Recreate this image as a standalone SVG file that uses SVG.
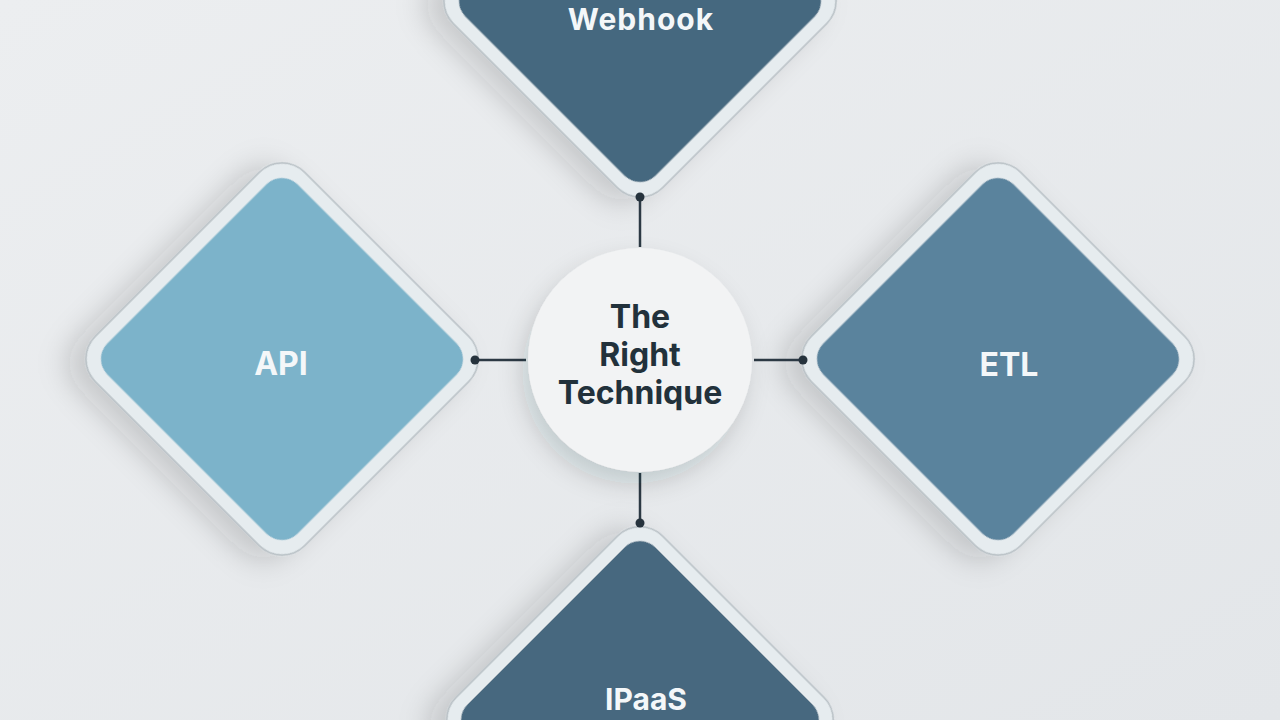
<svg xmlns="http://www.w3.org/2000/svg" width="1280" height="720" viewBox="0 0 1280 720">
  <defs>
    <linearGradient id="bg" x1="0" y1="0" x2="1" y2="1">
      <stop offset="0" stop-color="#eceef0"/>
      <stop offset="1" stop-color="#e3e6e9"/>
    </linearGradient>
    <filter id="shadow" x="-30%" y="-30%" width="160%" height="160%">
      <feDropShadow dx="-10" dy="16" stdDeviation="14" flood-color="#1e2a33" flood-opacity="0.18"/>
    </filter>
    <filter id="cshadow" x="-30%" y="-30%" width="160%" height="160%">
      <feDropShadow dx="-6" dy="12" stdDeviation="12" flood-color="#1e2a33" flood-opacity="0.16"/>
    </filter>
  </defs>
  <style>
    .frame { fill: #e6ecef; stroke: #b8c0c5; stroke-width: 1.5; }
    .label { font-family: "Inter", "Liberation Sans", sans-serif; font-weight: 700; fill: #f4f7f9; text-anchor: middle; }
    .center { font-family: "Inter", "Liberation Sans", sans-serif; font-weight: 700; fill: #22313b; text-anchor: middle; font-size: 32px; }
    .wire { stroke: #2c3944; stroke-width: 2.5; fill: none; }
    .dot { fill: #26333d; }
  </style>
  <rect width="1280" height="720" fill="url(#bg)"/>

  <g id="node-webhook">
    <g transform="translate(640,1) rotate(45)" filter="url(#shadow)">
      <rect class="frame" x="-148" y="-148" width="296" height="296" rx="32"/>
      <rect x="-134.5" y="-134.5" width="269" height="269" rx="22" fill="#44687f"/>
    </g>
    <text class="label" x="641" y="30" font-size="30" letter-spacing="1">Webhook</text>
  </g>

  <g id="node-api">
    <g transform="translate(282,359) rotate(45)" filter="url(#shadow)">
      <rect class="frame" x="-148" y="-148" width="296" height="296" rx="32"/>
      <rect x="-134.5" y="-134.5" width="269" height="269" rx="22" fill="#7cb3ca"/>
    </g>
    <text class="label" x="281" y="375" font-size="32">API</text>
  </g>

  <g id="node-etl">
    <g transform="translate(998,359) rotate(45)" filter="url(#shadow)">
      <rect class="frame" x="-148" y="-148" width="296" height="296" rx="32"/>
      <rect x="-134.5" y="-134.5" width="269" height="269" rx="22" fill="#5a839d"/>
    </g>
    <text class="label" x="1009" y="376" font-size="32">ETL</text>
  </g>

  <g id="node-ipaas">
    <g transform="translate(640,720) rotate(45)" filter="url(#shadow)">
      <rect class="frame" x="-146" y="-146" width="292" height="292" rx="32"/>
      <rect x="-133" y="-133" width="266" height="266" rx="22" fill="#46687f"/>
    </g>
    <text class="label" x="646" y="710" font-size="30">IPaaS</text>
  </g>

  <g id="connectors">
    <line class="wire" x1="640" y1="197" x2="640" y2="247"/>
    <circle class="dot" cx="640" cy="197" r="4.5"/>
    <line class="wire" x1="640" y1="473" x2="640" y2="523"/>
    <circle class="dot" cx="640" cy="523" r="4.5"/>
    <line class="wire" x1="475" y1="360" x2="526" y2="360"/>
    <circle class="dot" cx="475" cy="360" r="4.5"/>
    <line class="wire" x1="754" y1="360" x2="803" y2="360"/>
    <circle class="dot" cx="803" cy="360" r="4.5"/>
  </g>

  <g id="node-center">
    <circle cx="640" cy="360" r="112" fill="#f2f3f4" filter="url(#cshadow)"/>
    <text class="center" x="640" y="328">The</text>
    <text class="center" x="640" y="366">Right</text>
    <text class="center" x="640" y="404">Technique</text>
  </g>
</svg>
